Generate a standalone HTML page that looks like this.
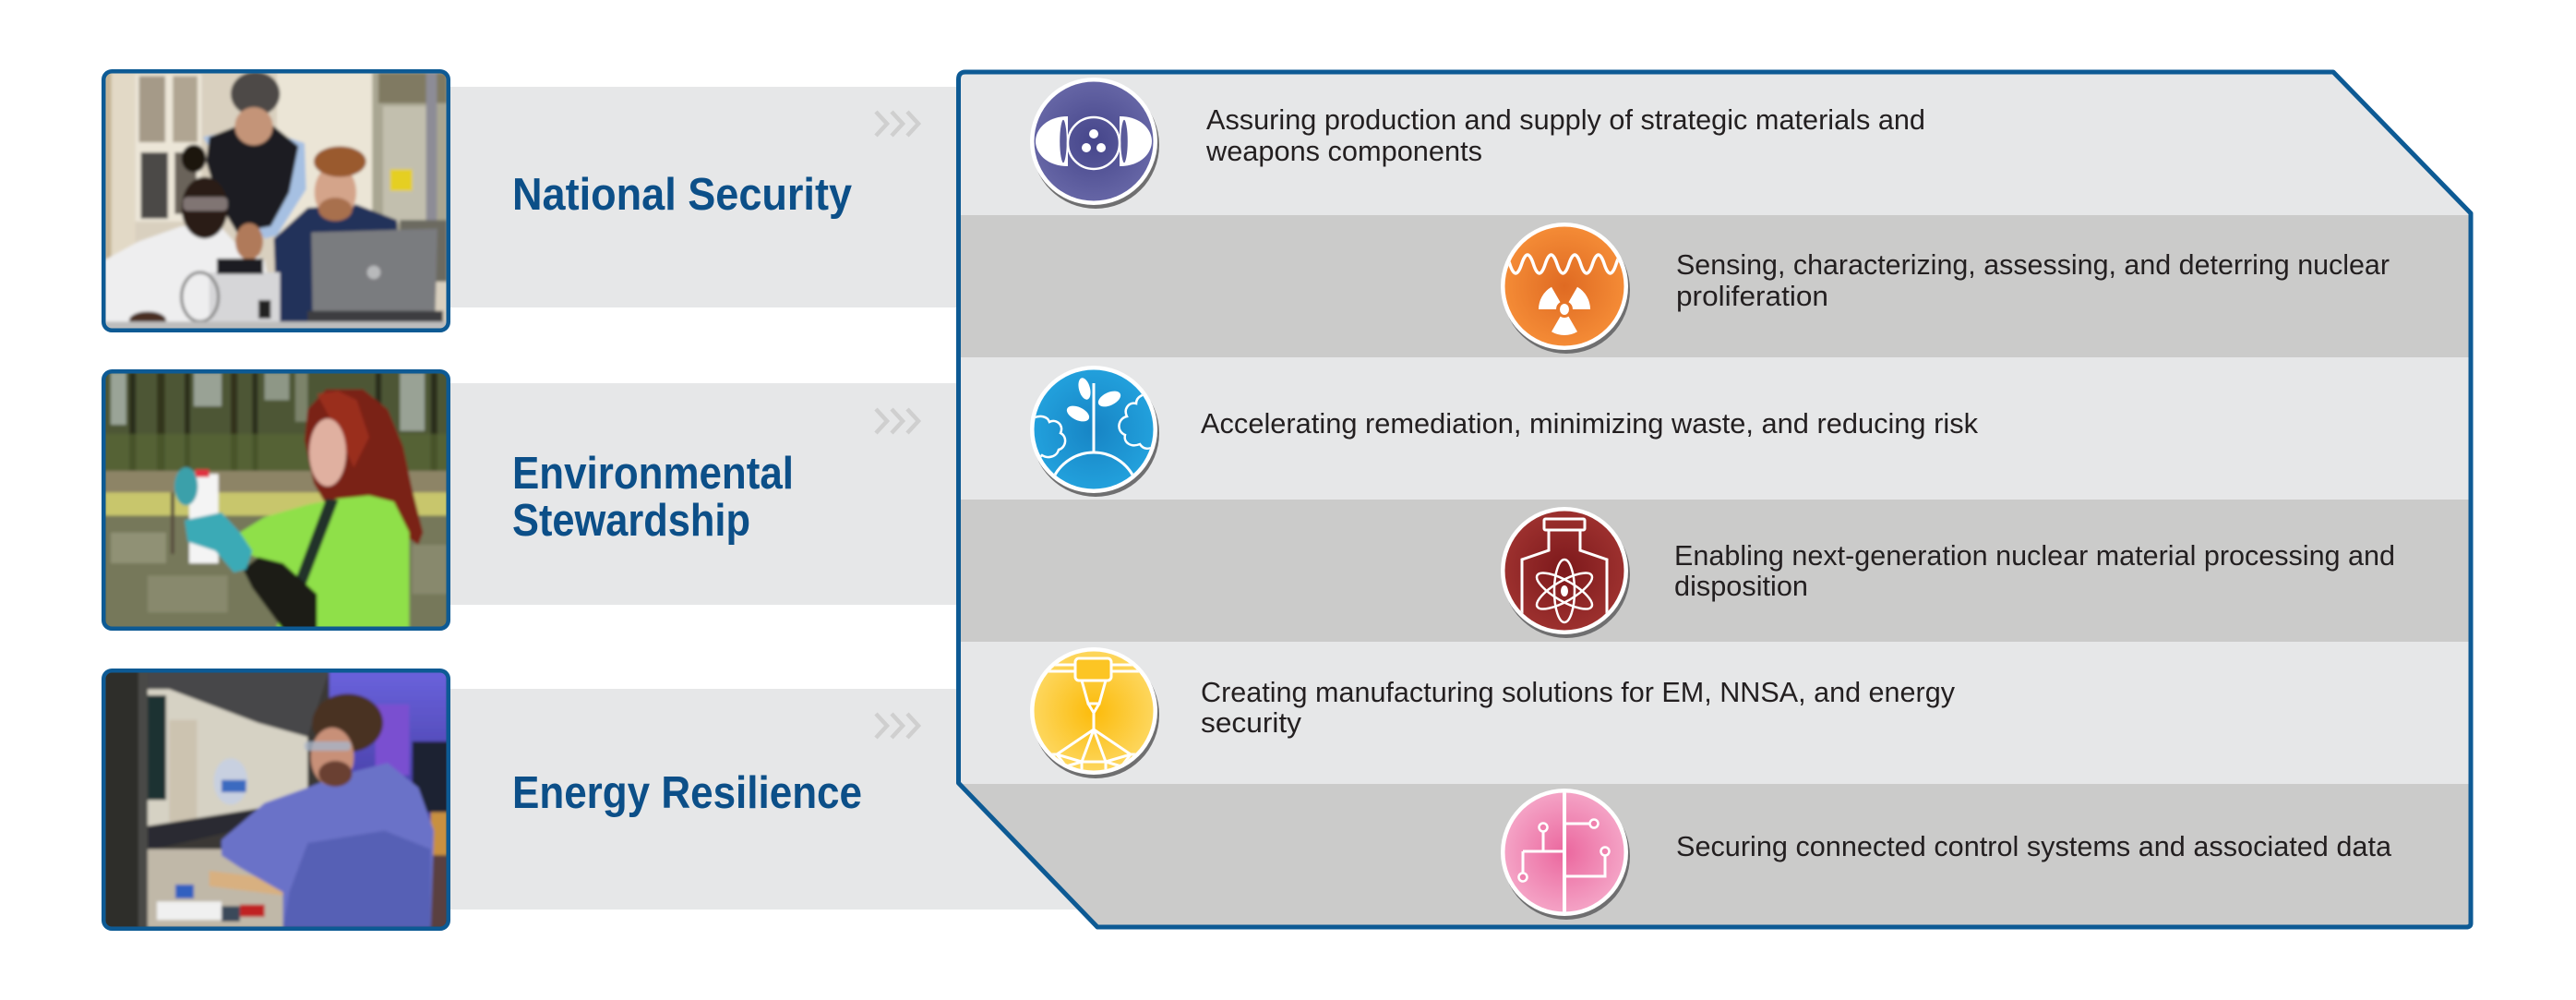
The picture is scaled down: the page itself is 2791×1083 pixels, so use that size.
<!DOCTYPE html>
<html>
<head>
<meta charset="utf-8">
<style>
  html, body { margin: 0; padding: 0; background: #ffffff; }
  body { width: 2791px; height: 1083px; overflow: hidden; }
  svg { display: block; }
  .cap { font-family: "Liberation Sans", Arial, sans-serif; font-size: 30.5px; fill: #231f20; }
  .ttl { font-family: "Liberation Sans", Arial, sans-serif; font-size: 49px; font-weight: bold; fill: #0c4f88; }
</style>
</head>
<body>
<svg width="2791" height="1083" viewBox="0 0 2791 1083" xmlns="http://www.w3.org/2000/svg">
  <defs>
    <clipPath id="boxclip">
      <path d="M1038.5 86 Q1038.5 78 1046 78 L2528 78 L2677 231 L2677 1000 Q2677 1004 2672 1004 L1189 1004 L1038.5 848 Z"/>
    </clipPath>
    <clipPath id="photoclip">
      <rect x="40" y="40" width="1115" height="835" rx="24"/>
    </clipPath>
    <clipPath id="iconclip"><circle cx="0" cy="0" r="64.5"/></clipPath>
    <filter id="soft" x="-5%" y="-5%" width="110%" height="110%"><feGaussianBlur stdDeviation="5"/></filter>
    <radialGradient id="gPurple" cx="50%" cy="50%" r="50%"><stop offset="0" stop-color="#45458a"/><stop offset="1" stop-color="#6565a5"/></radialGradient>
    <radialGradient id="gOrange" cx="50%" cy="50%" r="50%"><stop offset="0" stop-color="#df6a22"/><stop offset="1" stop-color="#f48b36"/></radialGradient>
    <radialGradient id="gBlue" cx="50%" cy="50%" r="50%"><stop offset="0" stop-color="#1784c4"/><stop offset="1" stop-color="#22a0dc"/></radialGradient>
    <radialGradient id="gRed" cx="50%" cy="50%" r="50%"><stop offset="0" stop-color="#7c181b"/><stop offset="1" stop-color="#9c302e"/></radialGradient>
    <radialGradient id="gYellow" cx="50%" cy="50%" r="50%"><stop offset="0" stop-color="#fcbb0a"/><stop offset="1" stop-color="#fdd65c"/></radialGradient>
    <radialGradient id="gPink" cx="50%" cy="50%" r="50%"><stop offset="0" stop-color="#eb679e"/><stop offset="1" stop-color="#f4a2c5"/></radialGradient>
    <linearGradient id="gPurpleBg" x1="0" y1="0" x2="0" y2="1"><stop offset="0" stop-color="#6a62dc"/><stop offset="1" stop-color="#3c3496"/></linearGradient>
  </defs>

  <!-- left bands -->
  <rect x="486" y="94" width="600" height="239" fill="#e6e7e8"/>
  <rect x="486" y="415" width="600" height="240" fill="#e6e7e8"/>
  <rect x="486" y="746" width="800" height="239" fill="#e6e7e8"/>

  <!-- chevrons -->
  <g fill="none" stroke="#cfcfcf" stroke-width="4.5">
    <polyline points="949,121 961,134 949,147"/><polyline points="966,121 978,134 966,147"/><polyline points="983,121 995,134 983,147"/>
    <polyline points="949,443 961,456 949,469"/><polyline points="966,443 978,456 966,469"/><polyline points="983,443 995,456 983,469"/>
    <polyline points="949,773 961,786 949,799"/><polyline points="966,773 978,786 966,799"/><polyline points="983,773 995,786 983,799"/>
  </g>

  <!-- titles -->
  <text class="ttl" x="555" y="227" textLength="368" lengthAdjust="spacingAndGlyphs">National Security</text>
  <text class="ttl" x="555" y="529" textLength="305" lengthAdjust="spacingAndGlyphs">Environmental</text>
  <text class="ttl" x="555" y="580" textLength="258" lengthAdjust="spacingAndGlyphs">Stewardship</text>
  <text class="ttl" x="555" y="875" textLength="379" lengthAdjust="spacingAndGlyphs">Energy Resilience</text>

  <!-- big box rows -->
  <g clip-path="url(#boxclip)">
    <rect x="1030" y="70" width="1660" height="163" fill="#e6e7e8"/>
    <rect x="1030" y="233" width="1660" height="154" fill="#cbcbca"/>
    <rect x="1030" y="387" width="1660" height="154" fill="#e6e7e8"/>
    <rect x="1030" y="541" width="1660" height="154" fill="#cbcbca"/>
    <rect x="1030" y="695" width="1660" height="154" fill="#e6e7e8"/>
    <rect x="1030" y="849" width="1660" height="160" fill="#cbcbca"/>
  </g>
  <path d="M1038.5 86 Q1038.5 78 1046 78 L2528 78 L2677 231 L2677 1000 Q2677 1004 2672 1004 L1189 1004 L1038.5 848 Z" fill="none" stroke="#0d5a94" stroke-width="5" stroke-linejoin="round"/>

  <!-- captions -->
  <text class="cap" x="1307" y="140" textLength="779" lengthAdjust="spacingAndGlyphs">Assuring production and supply of strategic materials and</text>
  <text class="cap" x="1307" y="174" textLength="299" lengthAdjust="spacingAndGlyphs">weapons components</text>
  <text class="cap" x="1816" y="297" textLength="773" lengthAdjust="spacingAndGlyphs">Sensing, characterizing, assessing, and deterring nuclear</text>
  <text class="cap" x="1816" y="331" textLength="165" lengthAdjust="spacingAndGlyphs">proliferation</text>
  <text class="cap" x="1301" y="469" textLength="842" lengthAdjust="spacingAndGlyphs">Accelerating remediation, minimizing waste, and reducing risk</text>
  <text class="cap" x="1814" y="612" textLength="781" lengthAdjust="spacingAndGlyphs">Enabling next-generation nuclear material processing and</text>
  <text class="cap" x="1814" y="645" textLength="145" lengthAdjust="spacingAndGlyphs">disposition</text>
  <text class="cap" x="1301" y="760" textLength="817" lengthAdjust="spacingAndGlyphs">Creating manufacturing solutions for EM, NNSA, and energy</text>
  <text class="cap" x="1301" y="793" textLength="109" lengthAdjust="spacingAndGlyphs">security</text>
  <text class="cap" x="1816" y="927" textLength="775" lengthAdjust="spacingAndGlyphs">Securing connected control systems and associated data</text>

  <!-- ICON 1 purple -->
  <g transform="translate(1185,153)">
    <circle cx="2" cy="4" r="69" fill="#6f6f70"/>
    <circle cx="0" cy="0" r="69" fill="#ffffff"/>
    <circle cx="0" cy="0" r="64.5" fill="url(#gPurple)"/>
    <path d="M-28 -27 C-52 -27 -63 -12 -63 0 C-63 12 -52 27 -28 27 Z" fill="#fff"/>
    <ellipse cx="-33" cy="0" rx="4.5" ry="24" fill="#5a5a9a" stroke="#fff" stroke-width="1.5"/>
    <path d="M28 -27 C52 -27 63 -12 63 0 C63 12 52 27 28 27 Z" fill="#fff"/>
    <ellipse cx="33" cy="0" rx="4.5" ry="24" fill="#5a5a9a" stroke="#fff" stroke-width="1.5"/>
    <circle cx="0" cy="2" r="28" fill="none" stroke="#fff" stroke-width="2.5"/>
    <circle cx="0" cy="-8" r="5" fill="#fff"/>
    <circle cx="-8" cy="7" r="5" fill="#fff"/>
    <circle cx="8" cy="7" r="5" fill="#fff"/>
  </g>

  <!-- ICON 2 orange -->
  <g transform="translate(1695,310)">
    <circle cx="2" cy="4" r="69" fill="#6f6f70"/>
    <circle cx="0" cy="0" r="69" fill="#ffffff"/>
    <circle cx="0" cy="0" r="64.5" fill="url(#gOrange)"/>
    <g clip-path="url(#iconclip)">
      <path d="M-72 -24 Q-65.6 -44 -59.2 -24 T-46.4 -24 T-33.6 -24 T-20.8 -24 T-8 -24 T4.8 -24 T17.6 -24 T30.4 -24 T43.2 -24 T56 -24 T68.8 -24" fill="none" stroke="#fff" stroke-width="3.5"/>
    </g>
    <g fill="#fff">
      <path d="M-9 25 L-28 25 A28 28 0 0 1 -14 0.8 L-4.5 17.2 A9 9 0 0 0 -9 25 Z"/>
      <path d="M4.5 17.2 L14 0.8 A28 28 0 0 1 28 25 L9 25 A9 9 0 0 0 4.5 17.2 Z"/>
      <path d="M4.5 32.8 L14 49.2 A28 28 0 0 1 -14 49.2 L-4.5 32.8 A9 9 0 0 0 4.5 32.8 Z"/>
      <ellipse cx="0" cy="25" rx="5" ry="6"/>
    </g>
  </g>

  <!-- ICON 3 blue -->
  <g transform="translate(1185,465)">
    <circle cx="2" cy="4" r="69" fill="#6f6f70"/>
    <circle cx="0" cy="0" r="69" fill="#ffffff"/>
    <circle cx="0" cy="0" r="64.5" fill="url(#gBlue)"/>
    <g clip-path="url(#iconclip)" fill="none" stroke="#fff" stroke-width="3">
      <line x1="0" y1="-50" x2="0" y2="25"/>
      <path d="M-43 51 A48.6 48.6 0 0 1 43 51"/>
      <path d="M-66 -12 C-58 -16 -50 -14 -48 -8 C-40 -12 -32 -4 -36 4 C-28 8 -30 20 -38 22 C-40 30 -50 32 -56 28 L-62 34" stroke-width="2.5"/>
      <path d="M64 -38 C56 -40 46 -36 46 -28 C38 -30 32 -22 36 -14 C26 -12 24 2 34 6 C32 14 40 20 50 16 C54 22 60 22 66 18" stroke-width="2.5"/>
    </g>
    <g fill="#fff">
      <ellipse cx="-10" cy="-44" rx="6" ry="12" transform="rotate(-15 -10 -44)"/>
      <ellipse cx="17" cy="-33" rx="13" ry="7" transform="rotate(-25 17 -33)"/>
      <ellipse cx="-17" cy="-17" rx="13" ry="7" transform="rotate(25 -17 -17)"/>
    </g>
  </g>

  <!-- ICON 4 red -->
  <g transform="translate(1695,618)">
    <circle cx="2" cy="4" r="69" fill="#6f6f70"/>
    <circle cx="0" cy="0" r="69" fill="#ffffff"/>
    <circle cx="0" cy="0" r="64.5" fill="url(#gRed)"/>
    <g clip-path="url(#iconclip)" fill="none" stroke="#fff" stroke-width="3">
      <rect x="-22" y="-56" width="44" height="12" rx="1.5"/>
      <path d="M-17 -44 L-17 -22 L-46 -12 L-46 70 M17 -44 L17 -22 L46 -12 L46 70"/>
    </g>
    <g fill="none" stroke="#fff" stroke-width="2.5">
      <ellipse cx="0" cy="22" rx="11" ry="34"/>
      <ellipse cx="0" cy="22" rx="11" ry="34" transform="rotate(60 0 22)"/>
      <ellipse cx="0" cy="22" rx="11" ry="34" transform="rotate(-60 0 22)"/>
    </g>
    <ellipse cx="0" cy="22" rx="4" ry="6" fill="#fff"/>
  </g>

  <!-- ICON 5 yellow -->
  <g transform="translate(1185,770)">
    <circle cx="2" cy="4" r="69" fill="#6f6f70"/>
    <circle cx="0" cy="0" r="69" fill="#ffffff"/>
    <circle cx="0" cy="0" r="64.5" fill="url(#gYellow)"/>
    <g clip-path="url(#iconclip)" fill="none" stroke="#fff" stroke-width="3">
      <line x1="-70" y1="-50" x2="70" y2="-50"/>
      <line x1="-70" y1="-43" x2="70" y2="-43"/>
      <rect x="-20" y="-57" width="39" height="24" rx="4" fill="#fcc524"/>
      <path d="M-13 -33 L-6 -8 L6 -8 L13 -33"/>
      <path d="M-6 -8 L0 2 L6 -8"/>
      <line x1="0" y1="2" x2="0" y2="20"/>
      <path d="M0 20 L-40 47 M0 20 L-13 55 M0 20 L13 55 M0 20 L40 47"/>
      <path d="M-70 47 L-40 47 L-13 55 L13 55 L40 47 L70 47"/>
      <path d="M-40 47 L-30 60 L-13 55 M40 47 L30 60 L13 55 M-13 55 L-13 70 M13 55 L13 70"/>
    </g>
  </g>

  <!-- ICON 6 pink -->
  <g transform="translate(1695,923)">
    <circle cx="2" cy="4" r="69" fill="#6f6f70"/>
    <circle cx="0" cy="0" r="69" fill="#ffffff"/>
    <circle cx="0" cy="0" r="64.5" fill="url(#gPink)"/>
    <g clip-path="url(#iconclip)" fill="none" stroke="#fff" stroke-width="4">
      <line x1="0" y1="-70" x2="0" y2="70"/>
    </g>
    <g fill="none" stroke="#fff" stroke-width="3">
      <path d="M0 -31 L28 -31"/>
      <path d="M-23 -23 L-23 -1 M-45 -1 L0 -1 M-45 -1 L-45 22"/>
      <path d="M44 4 L44 26 L0 26"/>
    </g>
    <g fill="#ef80ae" stroke="#fff" stroke-width="2.5">
      <circle cx="32" cy="-31" r="4.5"/>
      <circle cx="-23" cy="-27" r="4.5"/>
      <circle cx="-45" cy="27" r="4.5"/>
      <circle cx="44" cy="-1" r="4.5"/>
    </g>
  </g>

  <!-- PHOTO 1 -->
  <g transform="translate(100,65) scale(0.33333)">
    <g clip-path="url(#photoclip)">
      <g filter="url(#soft)">
        <rect x="0" y="0" width="1200" height="915" fill="#d9d0bf"/>
        <rect x="40" y="40" width="100" height="835" fill="#e2d9c6"/>
        <rect x="40" y="40" width="22" height="835" fill="#c4b394"/>
        <rect x="140" y="45" width="215" height="480" fill="#ece6d8"/>
        <rect x="152" y="52" width="85" height="215" fill="#a59a88"/>
        <rect x="262" y="52" width="80" height="215" fill="#b0a592"/>
        <rect x="158" y="300" width="88" height="215" fill="#4c4a46"/>
        <rect x="268" y="300" width="70" height="200" fill="#6a645a"/>
        <rect x="600" y="40" width="310" height="520" fill="#ebe5d6"/>
        <rect x="910" y="40" width="245" height="520" fill="#a9a692"/>
        <rect x="930" y="40" width="225" height="100" fill="#807a62"/>
        <rect x="945" y="150" width="140" height="380" fill="#c2bfae"/>
        <rect x="1085" y="40" width="35" height="560" fill="#8d8c96"/>
        <rect x="968" y="355" width="72" height="70" fill="#e5cf22"/>
        <rect x="1000" y="520" width="155" height="200" fill="#6c6a60"/>
        <polygon points="360,250 450,230 600,240 690,270 695,420 600,570 560,580 520,520" fill="#a6c0e2"/>
        <polygon points="380,250 470,215 590,215 670,280 640,430 580,540 470,560 410,460 370,330" fill="#1d1d22"/>
        <ellipse cx="530" cy="110" rx="80" ry="72" fill="#4e4a46"/>
        <ellipse cx="525" cy="215" rx="62" ry="62" fill="#c49478"/>
        <polygon points="40,650 150,590 290,540 420,545 470,600 560,650 600,875 40,875" fill="#eeeeef"/>
        <ellipse cx="330" cy="320" rx="40" ry="45" fill="#1a1410"/>
        <ellipse cx="365" cy="480" rx="75" ry="100" fill="#2b1d17"/>
        <rect x="295" y="445" width="145" height="45" rx="15" fill="#b9b0b0" opacity="0.6"/>
        <ellipse cx="510" cy="590" rx="45" ry="60" fill="#b07a5a"/>
        <ellipse cx="180" cy="845" rx="60" ry="28" fill="#4a2e20"/>
        <polygon points="590,580 700,480 860,470 990,520 1010,875 600,875" fill="#22325a"/>
        <ellipse cx="790" cy="430" rx="68" ry="90" fill="#d4a48a"/>
        <ellipse cx="805" cy="330" rx="85" ry="50" fill="#9a5a2e"/>
        <ellipse cx="790" cy="485" rx="55" ry="38" fill="#a8704e"/>
        <polygon points="712,560 1122,548 1115,815 716,828" fill="#7a7c7f"/>
        <circle cx="915" cy="690" r="22" fill="#b8b9bb"/>
        <rect x="700" y="815" width="440" height="40" fill="#3c3d40"/>
        <rect x="380" y="690" width="230" height="180" fill="#d6d6d8"/>
        <rect x="405" y="645" width="150" height="50" fill="#1e1e22"/>
        <rect x="540" y="780" width="40" height="60" fill="#222222"/>
        <ellipse cx="350" cy="770" rx="60" ry="80" fill="none" stroke="#8a8a8a" stroke-width="10"/>
        <rect x="40" y="850" width="1115" height="30" fill="#bdbdbd"/>
      </g>
    </g>
  </g>
  <rect x="112.25" y="77.25" width="373.5" height="280.5" rx="9" fill="none" stroke="#0d5a94" stroke-width="4.5"/>

  <!-- PHOTO 2 -->
  <g transform="translate(100,390) scale(0.33333)">
    <g clip-path="url(#photoclip)">
      <g filter="url(#soft)">
        <rect x="0" y="0" width="1200" height="915" fill="#565a38"/>
        <rect x="40" y="40" width="1115" height="340" fill="#4e5636"/>
        <rect x="60" y="40" width="50" height="170" fill="#b4bfb8" opacity="0.75"/>
        <rect x="330" y="40" width="90" height="110" fill="#b9c3bd" opacity="0.7"/>
        <rect x="560" y="40" width="80" height="90" fill="#b9c3bd" opacity="0.6"/>
        <rect x="660" y="40" width="40" height="160" fill="#a8b0a0" opacity="0.5"/>
        <rect x="1000" y="40" width="80" height="190" fill="#b9c3bd" opacity="0.7"/>
        <rect x="120" y="40" width="22" height="340" fill="#2c2e1e"/>
        <rect x="210" y="40" width="26" height="340" fill="#33351f"/>
        <rect x="300" y="40" width="18" height="340" fill="#2c2e1e"/>
        <rect x="450" y="40" width="22" height="340" fill="#30321f"/>
        <rect x="520" y="40" width="18" height="340" fill="#2c2e1e"/>
        <rect x="920" y="40" width="20" height="340" fill="#2c2e1e"/>
        <rect x="1100" y="40" width="22" height="340" fill="#2c2e1e"/>
        <rect x="40" y="240" width="1115" height="140" fill="#596a36" opacity="0.6"/>
        <rect x="40" y="360" width="1115" height="75" fill="#8d8466"/>
        <rect x="40" y="430" width="1115" height="80" fill="#c8c66c"/>
        <rect x="40" y="505" width="1115" height="370" fill="#76785a"/>
        <rect x="60" y="560" width="180" height="100" fill="#a9a98e" opacity="0.5"/>
        <rect x="180" y="700" width="260" height="120" fill="#9a9a80" opacity="0.5"/>
        <rect x="1040" y="600" width="115" height="160" fill="#9a9a80" opacity="0.5"/>
        <polygon points="700,160 760,95 880,95 960,160 1010,280 1040,420 1075,560 1060,600 1000,560 880,480 760,470 720,400 690,260" fill="#7a2018"/>
        <polygon points="730,110 800,100 860,130 900,250 850,350 800,240" fill="#a83420" opacity="0.7"/>
        <ellipse cx="765" cy="300" rx="60" ry="110" fill="#e0b0a0"/>
        <polygon points="480,560 560,510 700,470 800,450 900,440 980,460 1030,560 1030,875 600,875 620,700 560,650 480,620" fill="#8fe048"/>
        <polygon points="760,450 800,455 660,820 620,820" fill="#20302a"/>
        <polygon points="490,680 540,640 620,660 730,760 730,875 620,875 520,740" fill="#1c1a18"/>
        <rect x="315" y="370" width="95" height="290" fill="#f4f4f4"/>
        <rect x="335" y="355" width="45" height="25" fill="#e03040"/>
        <ellipse cx="305" cy="410" rx="38" ry="62" fill="#3aa0aa"/>
        <polygon points="300,520 420,495 480,560 520,620 500,680 460,690 400,620 310,590" fill="#3aaab6"/>
        <rect x="255" y="430" width="12" height="200" fill="#5a5040"/>
      </g>
    </g>
  </g>
  <rect x="112.25" y="402.25" width="373.5" height="278.5" rx="9" fill="none" stroke="#0d5a94" stroke-width="4.5"/>

  <!-- PHOTO 3 -->
  <g transform="translate(100,713) scale(0.33333)">
    <g clip-path="url(#photoclip)">
      <g filter="url(#soft)">
        <rect x="0" y="0" width="1200" height="915" fill="#3a3834"/>
        <rect x="40" y="40" width="140" height="835" fill="#2e2e2c"/>
        <rect x="150" y="40" width="30" height="835" fill="#4a4a46"/>
        <polygon points="180,80 700,180 700,480 180,545" fill="#d6d2c4"/>
        <polygon points="180,40 770,40 700,255 540,210 250,100 180,100" fill="#464648"/>
        <rect x="180" y="120" width="60" height="340" fill="#1e3030"/>
        <rect x="770" y="40" width="385" height="530" fill="url(#gPurpleBg)"/>
        <rect x="920" y="150" width="110" height="230" fill="#7a50d0"/>
        <rect x="1040" y="270" width="115" height="230" fill="#1a2030"/>
        <rect x="1100" y="500" width="55" height="140" fill="#c89040"/>
        <rect x="1100" y="640" width="55" height="235" fill="#5a4040"/>
        <rect x="250" y="200" width="90" height="330" fill="#c8bca8" opacity="0.7"/>
        <ellipse cx="450" cy="400" rx="55" ry="75" fill="#c8d0e0"/>
        <rect x="420" y="395" width="80" height="40" fill="#3a6ac0"/>
        <polygon points="180,545 650,470 665,515 180,625" fill="#2a2a30"/>
        <rect x="180" y="620" width="440" height="255" fill="#c0b8a8"/>
        <polygon points="380,690 620,720 620,770 380,740" fill="#d8b080"/>
        <rect x="270" y="735" width="60" height="45" fill="#3060c0"/>
        <rect x="210" y="790" width="210" height="60" fill="#f0f0f0"/>
        <rect x="480" y="800" width="80" height="40" fill="#c02020"/>
        <rect x="420" y="805" width="60" height="50" fill="#3a4a5a"/>
        <polygon points="420,590 560,470 700,420 800,380 960,340 1060,420 1110,560 1100,875 620,875 620,760 480,680 420,640" fill="#6a72c8"/>
        <polygon points="700,600 950,560 1100,620 1100,875 620,875 640,760" fill="#5058ac" opacity="0.7"/>
        <ellipse cx="830" cy="210" rx="115" ry="95" fill="#4a3222"/>
        <ellipse cx="780" cy="320" rx="70" ry="95" fill="#c89078"/>
        <ellipse cx="790" cy="375" rx="55" ry="42" fill="#6a4030"/>
        <rect x="690" y="270" width="150" height="30" rx="12" fill="#a8b4c8" opacity="0.8"/>
      </g>
    </g>
  </g>
  <rect x="112.25" y="726.25" width="373.5" height="279.5" rx="9" fill="none" stroke="#0d5a94" stroke-width="4.5"/>
</svg>
</body>
</html>
